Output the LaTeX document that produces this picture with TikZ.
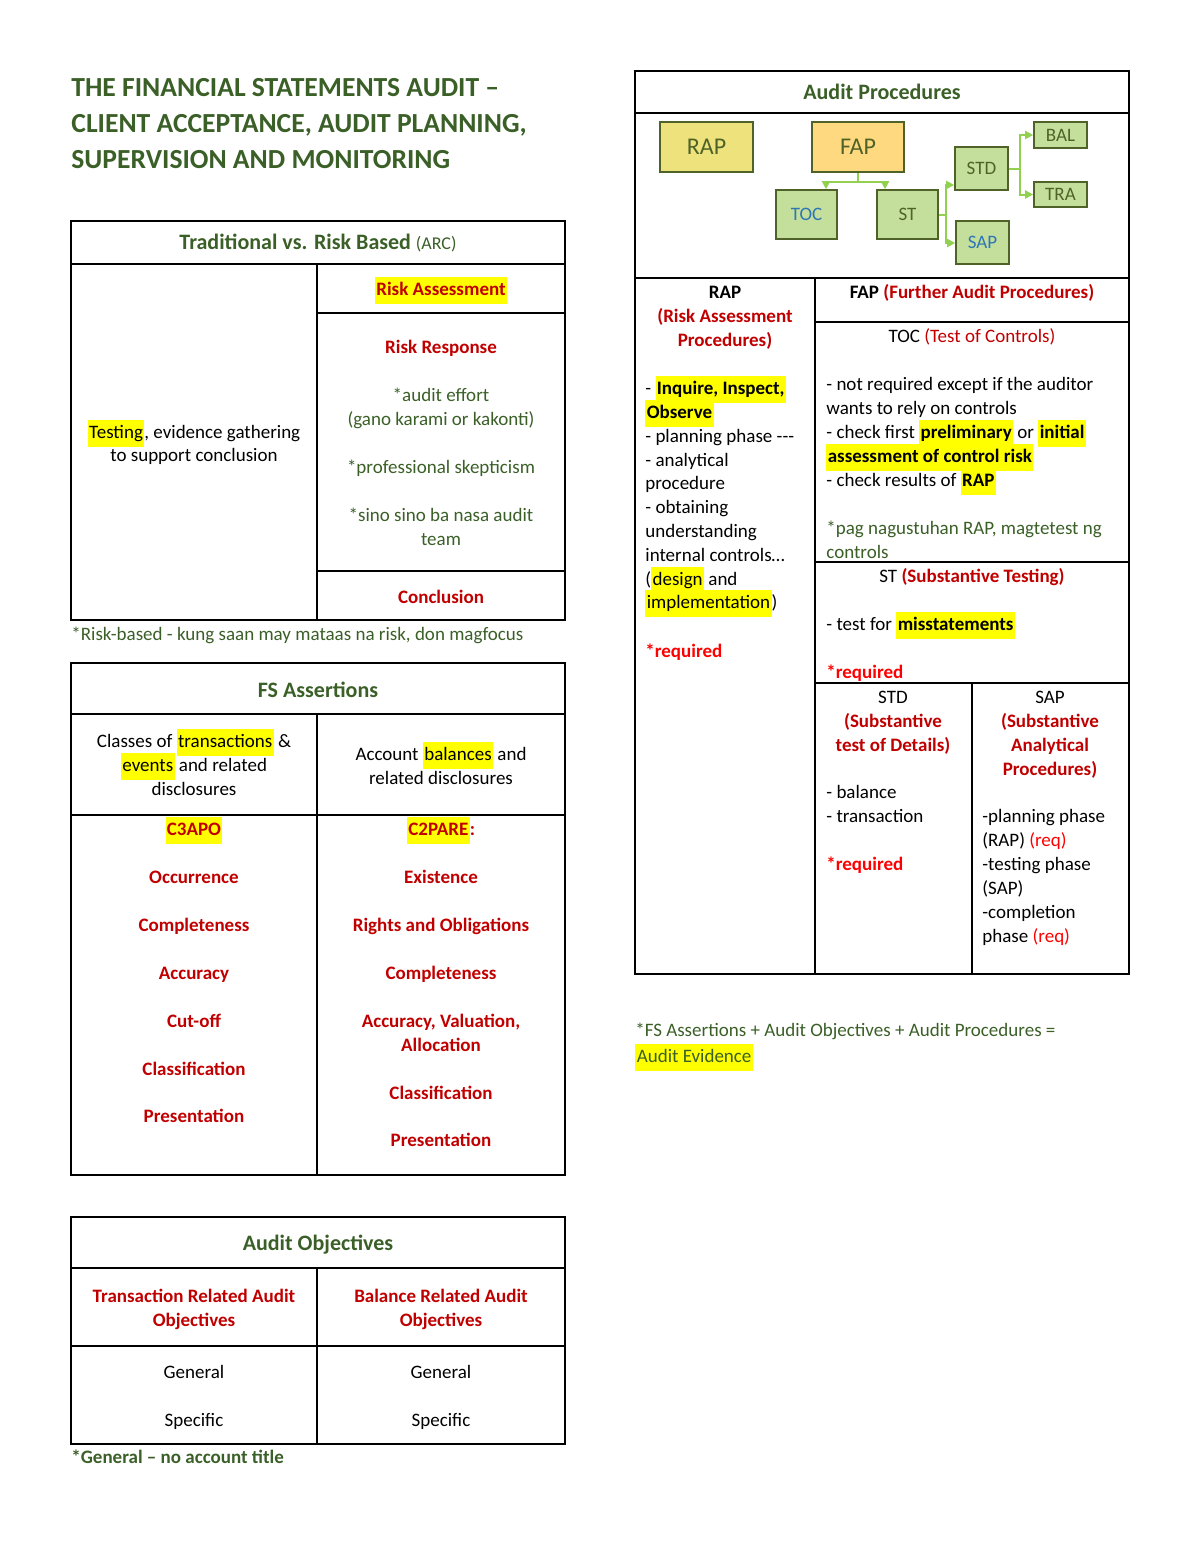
\documentclass[tikz,border=0pt]{standalone}
\usepackage{fontspec}
\setmainfont{Carlito}
\usetikzlibrary{arrows.meta}
\definecolor{dg}{HTML}{3A5F27}
\definecolor{rd}{HTML}{C00000}
\definecolor{rr}{HTML}{FF0000}
\definecolor{hy}{HTML}{FFFF00}
\definecolor{ol}{HTML}{4F6228}
\definecolor{gfill}{HTML}{C4DF9B}
\definecolor{rapf}{HTML}{EEE27C}
\definecolor{fapf}{HTML}{FFD980}
\definecolor{arr}{HTML}{92D050}
\definecolor{bl}{HTML}{2E75B6}
\setlength{\fboxsep}{0.7pt}
\newcommand\hl[1]{\colorbox{hy}{\strut #1}}
\tikzset{
 tb/.style={line width=1.1pt, draw=black},
 tx/.style={inner sep=0pt, font=\fontsize{9.5}{12}\selectfont, anchor=mid, yshift=-1.3pt},
 tl/.style={tx, anchor=mid west},
 hd/.style={tx, font=\fontsize{11}{13}\selectfont\bfseries, text=dg},
 rb/.style={tx, font=\fontsize{9.5}{12}\selectfont\bfseries, text=rd},
 gbox/.style={draw=ol, line width=0.8pt, fill=gfill, inner sep=0pt, font=\fontsize{9.5}{11}\selectfont, text=ol},
 con/.style={draw=arr, line width=1pt},
 ar/.style={con, -{Triangle[length=4pt,width=4pt]}},
}
\begin{document}
\begin{tikzpicture}[x=0.5pt,y=-0.5pt]
\useasboundingbox (0,0) rectangle (1200,1553);
% Title
\node[tl, font=\fontsize{13.8}{18}\selectfont\bfseries, text=dg] (t1) at (71,89) {THE FINANCIAL STATEMENTS AUDIT –};
\node[tl, font=\fontsize{13.8}{18}\selectfont\bfseries, text=dg] (t2) at (71,125) {CLIENT ACCEPTANCE, AUDIT PLANNING,};
\node[tl, font=\fontsize{13.8}{18}\selectfont\bfseries, text=dg] (t3) at (71,161) {SUPERVISION AND MONITORING};

% Table 1
\draw[tb] (71,221) rectangle (565,620);
\draw[tb] (71,264) -- (565,264);
\draw[tb] (317,264) -- (317,620);
\draw[tb] (317,313) -- (565,313);
\draw[tb] (317,571) -- (565,571);
\node[hd] at (318,242) {Traditional vs. Risk Based \mdseries\fontsize{9}{11}\selectfont(ARC)};
\node[tx] at (194,431) {\hl{Testing}, evidence gathering};
\node[tx] at (194,454) {to support conclusion};
\node[rb] at (441,288) {\hl{Risk Assessment}};
\node[rb] at (441,346) {Risk Response};
\node[tx,text=dg] at (441,394) {*audit effort};
\node[tx,text=dg] at (441,418) {(gano karami or kakonti)};
\node[tx,text=dg] at (441,466) {*professional skepticism};
\node[tx,text=dg] at (441,514) {*sino sino ba nasa audit};
\node[tx,text=dg] at (441,538) {team};
\node[rb] at (441,596) {Conclusion};
\node[tl,text=dg] at (71,633) {*Risk-based - kung saan may mataas na risk, don magfocus};

% Table 2
\draw[tb] (71,663) rectangle (565,1175);
\draw[tb] (71,714) -- (565,714);
\draw[tb] (71,815) -- (565,815);
\draw[tb] (317,714) -- (317,1175);
\node[hd] at (318,690) {FS Assertions};
\node[tx] at (194,740) {Classes of \hl{transactions} \&};
\node[tx] at (194,764) {\hl{events} and related};
\node[tx] at (194,788) {disclosures};
\node[tx] at (441,753) {Account \hl{balances} and};
\node[tx] at (441,777) {related disclosures};
\node[rb] at (194,828) {\hl{C3APO}};
\node[rb] at (194,876) {Occurrence};
\node[rb] at (194,924) {Completeness};
\node[rb] at (194,972) {Accuracy};
\node[rb] at (194,1020) {Cut-off};
\node[rb] at (194,1068) {Classification};
\node[rb] at (194,1115) {Presentation};
\node[rb] at (441,828) {\hl{C2PARE}:};
\node[rb] at (441,876) {Existence};
\node[rb] at (441,924) {Rights and Obligations};
\node[rb] at (441,972) {Completeness};
\node[rb] at (441,1020) {Accuracy, Valuation,};
\node[rb] at (441,1044) {Allocation};
\node[rb] at (441,1092) {Classification};
\node[rb] at (441,1139) {Presentation};

% Table 3
\draw[tb] (71,1217) rectangle (565,1444);
\draw[tb] (71,1268) -- (565,1268);
\draw[tb] (71,1346) -- (565,1346);
\draw[tb] (317,1268) -- (317,1444);
\node[hd] at (318,1243) {Audit Objectives};
\node[rb] at (194,1295) {Transaction Related Audit};
\node[rb] at (194,1319) {Objectives};
\node[rb] at (441,1295) {Balance Related Audit};
\node[rb] at (441,1319) {Objectives};
\node[tx] at (194,1371) {General};
\node[tx] at (194,1419) {Specific};
\node[tx] at (441,1371) {General};
\node[tx] at (441,1419) {Specific};
\node[tl,text=dg,font=\fontsize{9.5}{12}\selectfont\bfseries] at (71,1456) {*General – no account title};

% Right table
\draw[tb] (635,71) rectangle (1129,974);
\draw[tb] (635,113) -- (1129,113);
\draw[tb] (635,278) -- (1129,278);
\draw[tb] (815,278) -- (815,974);
\draw[tb] (815,322) -- (1129,322);
\draw[tb] (815,562) -- (1129,562);
\draw[tb] (815,683) -- (1129,683);
\draw[tb] (972,683) -- (972,974);
\node[hd] at (882,92) {Audit Procedures};

% diagram
\node[gbox, fill=rapf, minimum width=46.5pt, minimum height=25pt, font=\fontsize{12}{14}\selectfont] (rap) at (706.5,147) {RAP};
\node[gbox, fill=fapf, minimum width=46pt, minimum height=25pt, font=\fontsize{12}{14}\selectfont] (fap) at (858,147) {FAP};
\node[gbox, minimum width=30.5pt, minimum height=24.5pt, text=bl] (toc) at (806.5,214.5) {TOC};
\node[gbox, minimum width=30.5pt, minimum height=24.5pt] (st) at (907.5,214.5) {ST};
\node[gbox, minimum width=26.5pt, minimum height=21.5pt] (std) at (981.5,168.5) {STD};
\node[gbox, minimum width=26.5pt, minimum height=21.5pt, text=bl] (sap) at (982.5,242.5) {SAP};
\node[gbox, minimum width=26.5pt, minimum height=13pt] (bal) at (1060.5,135) {BAL};
\node[gbox, minimum width=26.5pt, minimum height=12.5pt] (tra) at (1060.5,194.5) {TRA};
\coordinate (f1) at (858,182);
\draw[con] (fap.south) -- (f1);
\draw[ar] (f1) -| (toc.north -| 826,0) ;
\draw[ar] (f1) -| (st.north -| 885,0);
\coordinate (s1) at (946,214.5);
\draw[con] (st.east) -- (s1);
\draw[ar] (s1) |- (std.west |- 0,185);
\draw[ar] (s1) |- (sap.west |- 0,243);
\coordinate (d1) at (1020,168.5);
\draw[con] (std.east) -- (d1);
\draw[ar] (d1) |- (bal.west);
\draw[ar] (d1) |- (tra.west);

% RAP column
\node[tx,font=\fontsize{9.5}{12}\selectfont\bfseries] at (725,291) {RAP};
\node[rb] at (725,315) {(Risk Assessment};
\node[rb] at (725,339) {Procedures)};
\begin{scope}[every node/.style={tl}]
\node at (645,387) {- \hl{\bfseries Inquire, Inspect,}};
\node at (645,411) {\hl{\bfseries Observe}};
\node at (645,435) {- planning phase {-}{-}{-}};
\node at (645,459) {- analytical};
\node at (645,482) {procedure};
\node at (645,506) {- obtaining};
\node at (645,530) {understanding};
\node at (645,554) {internal controls…};
\node at (645,578) {(\hl{design} and};
\node at (645,601) {\hl{implementation})};
\node[text=rr,font=\fontsize{9.5}{12}\selectfont\bfseries] at (645,650) {*required};
% TOC
\node at (826,383) {- not required except if the auditor};
\node at (826,407) {wants to rely on controls};
\node at (826,431) {- check first \hl{\bfseries preliminary} or \hl{\bfseries initial}};
\node at (826,455) {\hl{\bfseries assessment of control risk}};
\node at (826,479) {- check results of \hl{\bfseries RAP}};
\node[text=dg] at (826,527) {*pag nagustuhan RAP, magtetest ng};
\node[text=dg] at (826,551) {controls};
\node at (826,623) {- test for \hl{\bfseries misstatements}};
\node[text=rr,font=\fontsize{9.5}{12}\selectfont\bfseries] at (826,671) {*required};
\node at (826,791) {- balance};
\node at (826,815) {- transaction};
\node[text=rr,font=\fontsize{9.5}{12}\selectfont\bfseries] at (826,863) {*required};
\node at (982,815) {-planning phase};
\node at (982,839) {(RAP) \textcolor{rr}{(req)}};
\node at (982,863) {-testing phase};
\node at (982,887) {(SAP)};
\node at (982,911) {-completion};
\node at (982,935) {phase \textcolor{rr}{(req)}};
\node[text=dg] at (635,1029) {*FS Assertions + Audit Objectives + Audit Procedures =};
\node[text=dg] at (635,1055) {\hl{Audit Evidence}};
\end{scope}
\node[tx,font=\fontsize{9.5}{12}\selectfont\bfseries] at (972,291) {FAP \textcolor{rd}{(Further Audit Procedures)}};
\node[tx] at (972,335) {TOC \textcolor{rd}{(Test of Controls)}};
\node[tx] at (972,575) {ST \textcolor{rd}{\bfseries(Substantive Testing)}};
\node[tx] at (893,696) {STD};
\node[rb] at (893,720) {(Substantive};
\node[rb] at (893,744) {test of Details)};
\node[tx] at (1050,696) {SAP};
\node[rb] at (1050,720) {(Substantive};
\node[rb] at (1050,744) {Analytical};
\node[rb] at (1050,768) {Procedures)};
\end{tikzpicture}
\end{document}
